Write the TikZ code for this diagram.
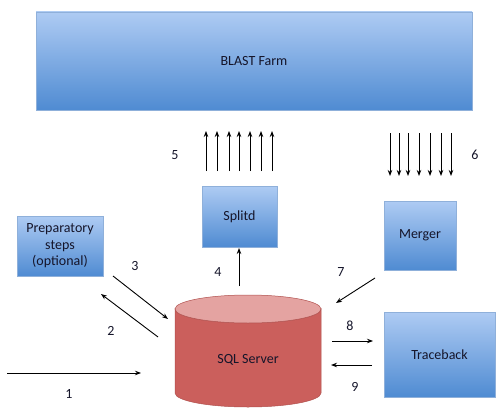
\documentclass[tikz,border=0pt]{standalone}
\usepackage{fontspec}
\setmainfont{Carlito}
\usetikzlibrary{arrows.meta}
\definecolor{boxtop}{HTML}{AECBF3}
\definecolor{boxbot}{HTML}{4F8BD2}
\definecolor{boxedge}{HTML}{8FB0DA}
\definecolor{txt}{HTML}{15152A}
\definecolor{cylbody}{HTML}{CB5F5C}
\definecolor{cyltop}{HTML}{E4A3A1}
\definecolor{cyledge}{HTML}{B0504D}
\begin{document}
\begin{tikzpicture}[x=1pt,y=-1pt,
  box/.style={draw=boxedge, line width=0.5pt, top color=boxtop, bottom color=boxbot,
    inner sep=0pt, font=\fontsize{14}{16.5}\selectfont, text=txt, align=center},
  arr/.style={-{Stealth[length=6pt,width=4.5pt]}, line width=0.9pt, black},
  lbl/.style={font=\fontsize{14}{16}\selectfont, text=txt, inner sep=0pt}]
\useasboundingbox (0,0) rectangle (500,417);

% boxes
\node[box, minimum width=436pt, minimum height=98pt] (blast) at (254,61) {BLAST Farm};
\node[box, minimum width=75pt, minimum height=61pt] (splitd) at (239.5,216.5) {Splitd};
\node[box, minimum width=72pt, minimum height=69pt] (merger) at (420,235.5) {Merger};
\node[box, minimum width=86pt, minimum height=60pt] (prep) at (60,246) {Preparatory\\steps\\(optional)};
\node[box, minimum width=111pt, minimum height=85pt] (trace) at (439.5,354.5) {Traceback};

% cylinder
\fill[cylbody, draw=cyledge, line width=0.5pt] (175,309) -- (175,393)
  arc[start angle=180, end angle=0, x radius=73, y radius=14] -- (321,309)
  arc[start angle=0, end angle=180, x radius=73, y radius=14] -- cycle;
\filldraw[fill=cyltop, draw=cyledge, line width=0.5pt] (248,309) ellipse [x radius=73, y radius=14];
\node[lbl] (sql) at (248,360) {SQL Server};

% 5: up arrows
\foreach \i/\x in {1/206,2/217,3/229,4/239,5/250,6/261,7/272}{
  \coordinate (u\i a) at (\x,171);
  \coordinate (u\i b) at (\x,131);
  \draw[arr] (u\i a) -- (u\i b);
}
% 6: down arrows
\foreach \i/\x in {1/390,2/399,3/408,4/419,5/430,6/441,7/451}{
  \coordinate (d\i a) at (\x,133);
  \coordinate (d\i b) at (\x,176);
  \draw[arr] (d\i a) -- (d\i b);
}

% other arrows
\coordinate (a1s) at (7,373);   \coordinate (a1e) at (141,373);
\coordinate (a2s) at (158,337); \coordinate (a2e) at (101,294);
\coordinate (a3s) at (113,276); \coordinate (a3e) at (168,319);
\coordinate (a4s) at (239,286); \coordinate (a4e) at (239,248);
\coordinate (a7s) at (375,278); \coordinate (a7e) at (336,303);
\coordinate (a8s) at (332,341); \coordinate (a8e) at (373,341);
\coordinate (a9s) at (372,365); \coordinate (a9e) at (331,365);
\foreach \n in {1,2,3,4,7,8,9}{ \draw[arr] (a\n s) -- (a\n e); }

% labels
\node[lbl] (l1) at (69,394) {1};
\node[lbl] (l2) at (111,331) {2};
\node[lbl] (l3) at (135,266) {3};
\node[lbl] (l4) at (218,272) {4};
\node[lbl] (l5) at (175,155) {5};
\node[lbl] (l6) at (475,155) {6};
\node[lbl] (l7) at (341,272) {7};
\node[lbl] (l8) at (350,326) {8};
\node[lbl] (l9) at (355,387) {9};
\end{tikzpicture}
\end{document}
